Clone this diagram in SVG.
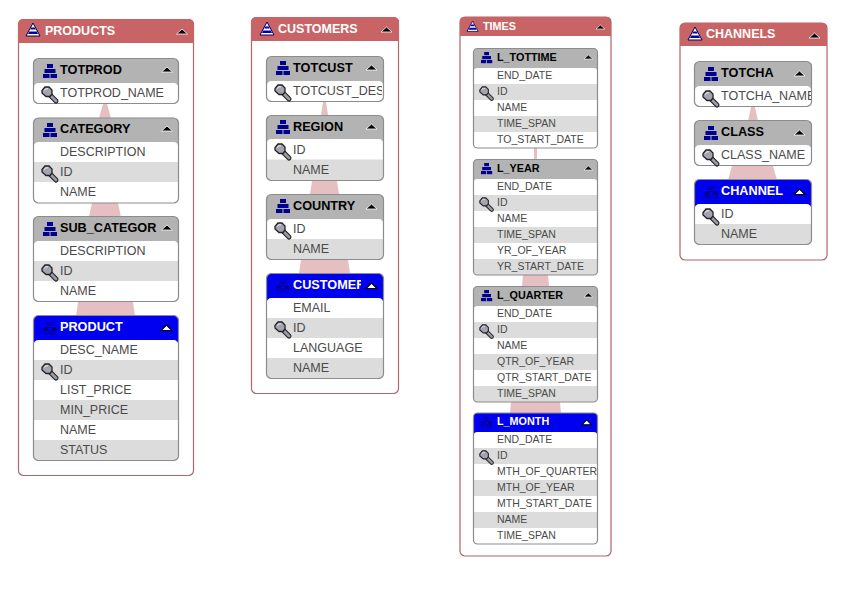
<svg xmlns="http://www.w3.org/2000/svg" xmlns:xlink="http://www.w3.org/1999/xlink" width="864" height="592" viewBox="0 0 864 592">
<style>
text{font-family:"Liberation Sans",Arial,sans-serif;fill:#4a4a4a;font-size:12.5px}
.pt{fill:#fff;font-weight:bold;font-size:12.5px}
.nt{fill:#000;font-weight:bold;font-size:12.7px}
.wt{fill:#fff;font-weight:bold;font-size:12.7px}
.s{font-size:10.5px}
.sb{font-size:10.8px}
.panel{fill:#fff;stroke:#b0666a;stroke-width:1.2}
.ph{fill:#c96466}
.ng{fill:#b3b3b3}
.nb{fill:#0000f0}
.bd{fill:#fff}
.alt{fill:#dcdcdc}
.out{fill:none;stroke:#8c8c8c;stroke-width:1.2}
.conn{fill:#e6bfc3}
</style>
<defs>
<g id="pyr"><path d="M7 0L14 13H0Z" fill="#fff" stroke="#000050" stroke-width="1"/><path d="M5.200 4.500H8.800L9.800 6.500H4.200ZM3.200 8.500H10.800L12 11H2Z" fill="#0000b0"/></g>
<g id="hier" fill="#000090"><rect x="4" y="0" width="6" height="4"/><rect x="1.500" y="5" width="11" height="4"/><rect x="0" y="10" width="6.500" height="4"/><rect x="7.500" y="10" width="6.500" height="4"/></g>
<g id="hierb" fill="none" stroke="#00008c" stroke-width="1"><path d="M4.500 1.500H9.500V4H4.500ZM2 6.500H12M1 10H6V13H1ZM8 10H13V13H8Z"/><path d="M0 8H5M9 8H14" stroke="#000"/></g>
<g id="key"><path d="M9 9L15 15" stroke="#222" stroke-width="5" stroke-linecap="round"/><path d="M9 9L15 15" stroke="#9a9aa8" stroke-width="2.800" stroke-linecap="round"/><path d="M1 4.500L4 1H8L11 4V8L9 10.500H5L1 7Z" fill="#a4a4b0" stroke="#222" stroke-width="1.300"/><path d="M3 4.500L5 2.800H7" fill="none" stroke="#eee" stroke-width="1"/></g>
<path id="tri" d="M0 5L5.500 0L11 5Z" fill="#000" stroke="#fff" stroke-width=".8"/>
<path id="triw" d="M0 5.500L5.500 0L11 5.500Z" fill="#fff" stroke="#000" stroke-width="1.200"/>
</defs>

<g id="panels">
<g id="panel-products"><rect class="panel" x="18.500" y="19.500" width="175" height="456" rx="5"/><path class="ph" d="M18 43V24a5 5 0 0 1 5-5H189a5 5 0 0 1 5 5V43Z"/><use href="#pyr" x="26" y="23"/><text class="pt" x="45" y="35">PRODUCTS</text><use href="#tri" x="176.500" y="29"/></g>
<g id="panel-customers"><rect class="panel" x="251.500" y="17.500" width="147" height="376" rx="5"/><path class="ph" d="M251 41V22a5 5 0 0 1 5-5H394a5 5 0 0 1 5 5V41Z"/><use href="#pyr" x="260" y="22"/><text class="pt" x="278" y="33">CUSTOMERS</text><use href="#tri" x="381" y="27"/></g>
<g id="panel-times"><rect class="panel" x="460" y="17" width="151" height="539" rx="5"/><path class="ph" d="M460 36V21a4 4 0 0 1 4-4H607a4 4 0 0 1 4 4V36Z"/><use href="#pyr" transform="translate(467 21) scale(.8)"/><text class="pt sb" x="483" y="30">TIMES</text><use href="#tri" transform="translate(596 25) scale(.8)"/></g>
<g id="panel-channels"><rect class="panel" x="680" y="23" width="147" height="237" rx="5"/><path class="ph" d="M680 46V28a5 5 0 0 1 5-5H822a5 5 0 0 1 5 5V46Z"/><use href="#pyr" x="688" y="27"/><text class="pt" x="706" y="38">CHANNELS</text><use href="#tri" x="809" y="33"/></g>
</g>

<g id="connectors">
<polygon class="conn" points="103,104 107,104 111,118 99,118"/>
<polygon class="conn" points="92,203 118,203 121,217 89,217"/>
<polygon class="conn" points="78,302 133,302 135,316 76,316"/>
<polygon class="conn" points="323,102 326,102 328,115 321,115"/>
<polygon class="conn" points="312,181 337,181 339,194 310,194"/>
<polygon class="conn" points="301,260 348,260 350,273 299,273"/>
<polygon class="conn" points="534,148 537,148 537,159 534,159"/>
<polygon class="conn" points="523,275 548,275 549,286 522,286"/>
<polygon class="conn" points="511,402 560,402 561,413 510,413"/>
<polygon class="conn" points="751,107 755,107 758,121 748,121"/>
<polygon class="conn" points="732,166 773,166 777,180 728,180"/>
</g>

<clipPath id="c1"><rect x="33" y="58" width="145" height="403"/></clipPath>
<clipPath id="c2"><rect x="267" y="56" width="115" height="323"/></clipPath>
<clipPath id="c2h"><rect x="267" y="56" width="94" height="323"/></clipPath>
<clipPath id="c3"><rect x="473" y="48" width="124" height="497"/></clipPath>
<clipPath id="c4"><rect x="695" y="61" width="116" height="184"/></clipPath>

<g id="node-totprod"><rect class="ng" x="33.500" y="58.500" width="145" height="45" rx="5"/><rect class="bd" x="33.500" y="83" width="145" height="20.500" rx="5"/><rect class="out" x="33.500" y="58.500" width="145" height="45" rx="5"/><use href="#hier" x="43" y="64"/><text class="nt" x="60" y="74">TOTPROD</text><use href="#tri" x="161.500" y="67"/><use href="#key" x="41" y="86"/><text x="60" y="97">TOTPROD_NAME</text></g>

<g id="node-category"><rect class="ng" x="33.500" y="118" width="145" height="85" rx="5"/><rect class="bd" x="33.500" y="142" width="145" height="61" rx="5"/><rect class="alt" x="34" y="162" width="144" height="20"/><rect class="out" x="33.500" y="118" width="145" height="85" rx="5"/><use href="#hier" x="43" y="123"/><text class="nt" x="60" y="133">CATEGORY</text><use href="#tri" x="161.500" y="126"/><text x="60" y="156">DESCRIPTION</text><use href="#key" x="41" y="165"/><text x="60" y="176">ID</text><text x="60" y="196">NAME</text></g>

<g id="node-sub-category"><rect class="ng" x="33.500" y="216.500" width="145" height="85" rx="5"/><rect class="bd" x="33.500" y="241" width="145" height="60.500" rx="5"/><rect class="alt" x="34" y="261" width="144" height="20"/><rect class="out" x="33.500" y="216.500" width="145" height="85" rx="5"/><use href="#hier" x="43" y="222"/><text class="nt" x="60" y="232">SUB_CATEGOR</text><use href="#tri" x="161.500" y="225"/><text x="60" y="255">DESCRIPTION</text><use href="#key" x="41" y="264"/><text x="60" y="275">ID</text><text x="60" y="295">NAME</text></g>

<g id="node-product"><rect class="nb" x="33.500" y="315.500" width="145" height="145" rx="5"/><rect class="bd" x="33.500" y="340" width="145" height="120.500" rx="5"/><rect class="alt" x="34" y="360" width="144" height="20"/><rect class="alt" x="34" y="400" width="144" height="20"/><path class="alt" d="M34 440H178V455.500a5 5 0 0 1-5 5H39a5 5 0 0 1-5-5Z"/><rect class="out" x="33.500" y="315.500" width="145" height="145" rx="5"/><use href="#hierb" x="43" y="321"/><text class="wt" x="60" y="331">PRODUCT</text><use href="#triw" x="161" y="325"/><text x="60" y="354">DESC_NAME</text><use href="#key" x="41" y="363"/><text x="60" y="374">ID</text><text x="60" y="394">LIST_PRICE</text><text x="60" y="414">MIN_PRICE</text><text x="60" y="434">NAME</text><text x="60" y="454">STATUS</text></g>

<g id="node-totcust"><rect class="ng" x="266.500" y="56.500" width="117" height="45" rx="5"/><rect class="bd" x="266.500" y="81" width="117" height="20.500" rx="5"/><rect class="out" x="266.500" y="56.500" width="117" height="45" rx="5"/><use href="#hier" x="276" y="61"/><text class="nt" x="293" y="72">TOTCUST</text><use href="#tri" x="366" y="65"/><use href="#key" x="274" y="84"/><text x="293" y="95" clip-path="url(#c2)">TOTCUST_DESC</text></g>

<g id="node-region"><rect class="ng" x="266.500" y="115.500" width="117" height="65" rx="5"/><rect class="bd" x="266.500" y="139" width="117" height="41.500" rx="5"/><path class="alt" d="M267 159.500H383V175.500a5 5 0 0 1-5 5H272a5 5 0 0 1-5-5Z"/><rect class="out" x="266.500" y="115.500" width="117" height="65" rx="5"/><use href="#hier" x="276" y="120"/><text class="nt" x="293" y="131">REGION</text><use href="#tri" x="366" y="124"/><use href="#key" x="274" y="143"/><text x="293" y="154">ID</text><text x="293" y="174">NAME</text></g>

<g id="node-country"><rect class="ng" x="266.500" y="194.500" width="117" height="65" rx="5"/><rect class="bd" x="266.500" y="219" width="117" height="40.500" rx="5"/><path class="alt" d="M267 239H383V254.500a5 5 0 0 1-5 5H272a5 5 0 0 1-5-5Z"/><rect class="out" x="266.500" y="194.500" width="117" height="65" rx="5"/><use href="#hier" x="276" y="199"/><text class="nt" x="293" y="210">COUNTRY</text><use href="#tri" x="366" y="204"/><use href="#key" x="274" y="222"/><text x="293" y="233">ID</text><text x="293" y="253">NAME</text></g>

<g id="node-customer"><rect class="nb" x="266.500" y="273.500" width="117" height="105" rx="5"/><rect class="bd" x="266.500" y="298" width="117" height="80.500" rx="5"/><rect class="alt" x="267" y="318" width="116" height="20"/><path class="alt" d="M267 358H383V373.500a5 5 0 0 1-5 5H272a5 5 0 0 1-5-5Z"/><rect class="out" x="266.500" y="273.500" width="117" height="105" rx="5"/><use href="#hierb" x="276" y="279"/><text class="wt" x="293" y="289" clip-path="url(#c2h)">CUSTOMER</text><use href="#triw" x="366" y="283"/><text x="293" y="312">EMAIL</text><use href="#key" x="274" y="321"/><text x="293" y="332">ID</text><text x="293" y="352">LANGUAGE</text><text x="293" y="372">NAME</text></g>

<g id="node-l-tottime"><rect class="ng" x="473.500" y="48.500" width="124" height="99.500" rx="4"/><rect class="bd" x="473.500" y="68" width="124" height="80" rx="4"/><rect class="alt" x="474" y="84" width="123" height="16"/><rect class="alt" x="474" y="116" width="123" height="16"/><rect class="out" x="473.500" y="48.500" width="124" height="99.500" rx="4"/><use href="#hier" transform="translate(481 52) scale(.8)"/><text class="nt sb" x="497" y="61">L_TOTTIME</text><use href="#tri" transform="translate(584 55) scale(.8)"/><text class="s" x="497" y="79">END_DATE</text><use href="#key" transform="translate(479 86) scale(.85)"/><text class="s" x="497" y="95">ID</text><text class="s" x="497" y="111">NAME</text><text class="s" x="497" y="127">TIME_SPAN</text><text class="s" x="497" y="143">TO_START_DATE</text></g>

<g id="node-l-year"><rect class="ng" x="473.500" y="159.500" width="124" height="115.500" rx="4"/><rect class="bd" x="473.500" y="179" width="124" height="96" rx="4"/><rect class="alt" x="474" y="195" width="123" height="16"/><rect class="alt" x="474" y="227" width="123" height="16"/><path class="alt" d="M474 259H597V271a4 4 0 0 1-4 4H478a4 4 0 0 1-4-4Z"/><rect class="out" x="473.500" y="159.500" width="124" height="115.500" rx="4"/><use href="#hier" transform="translate(481 163) scale(.8)"/><text class="nt sb" x="497" y="172">L_YEAR</text><use href="#tri" transform="translate(584 166) scale(.8)"/><text class="s" x="497" y="190">END_DATE</text><use href="#key" transform="translate(479 197) scale(.85)"/><text class="s" x="497" y="206">ID</text><text class="s" x="497" y="222">NAME</text><text class="s" x="497" y="238">TIME_SPAN</text><text class="s" x="497" y="254">YR_OF_YEAR</text><text class="s" x="497" y="270">YR_START_DATE</text></g>

<g id="node-l-quarter"><rect class="ng" x="473.500" y="286.500" width="124" height="115.500" rx="4"/><rect class="bd" x="473.500" y="306" width="124" height="96" rx="4"/><rect class="alt" x="474" y="322" width="123" height="16"/><rect class="alt" x="474" y="354" width="123" height="16"/><path class="alt" d="M474 386H597V398a4 4 0 0 1-4 4H478a4 4 0 0 1-4-4Z"/><rect class="out" x="473.500" y="286.500" width="124" height="115.500" rx="4"/><use href="#hier" transform="translate(481 290) scale(.8)"/><text class="nt sb" x="497" y="299">L_QUARTER</text><use href="#tri" transform="translate(584 293) scale(.8)"/><text class="s" x="497" y="317">END_DATE</text><use href="#key" transform="translate(479 324) scale(.85)"/><text class="s" x="497" y="333">ID</text><text class="s" x="497" y="349">NAME</text><text class="s" x="497" y="365">QTR_OF_YEAR</text><text class="s" x="497" y="381">QTR_START_DATE</text><text class="s" x="497" y="397">TIME_SPAN</text></g>

<g id="node-l-month"><rect class="nb" x="473.500" y="413" width="124" height="131" rx="4"/><rect class="bd" x="473.500" y="432" width="124" height="112" rx="4"/><rect class="alt" x="474" y="448" width="123" height="16"/><rect class="alt" x="474" y="480" width="123" height="16"/><rect class="alt" x="474" y="512" width="123" height="16"/><rect class="out" x="473.500" y="413" width="124" height="131" rx="4"/><use href="#hierb" transform="translate(481 416) scale(.8)"/><text class="wt sb" x="497" y="425">L_MONTH</text><use href="#triw" transform="translate(582 420) scale(.85)"/><text class="s" x="497" y="443">END_DATE</text><use href="#key" transform="translate(479 450) scale(.85)"/><text class="s" x="497" y="459">ID</text><text class="s" x="497" y="475" clip-path="url(#c3)">MTH_OF_QUARTER</text><text class="s" x="497" y="491">MTH_OF_YEAR</text><text class="s" x="497" y="507">MTH_START_DATE</text><text class="s" x="497" y="523">NAME</text><text class="s" x="497" y="539">TIME_SPAN</text></g>

<g id="node-totcha"><rect class="ng" x="694.500" y="61.500" width="117" height="45" rx="5"/><rect class="bd" x="694.500" y="86" width="117" height="20.500" rx="5"/><rect class="out" x="694.500" y="61.500" width="117" height="45" rx="5"/><use href="#hier" x="704" y="67"/><text class="nt" x="721" y="77">TOTCHA</text><use href="#tri" x="794" y="71"/><use href="#key" x="702" y="90"/><text x="721" y="100" clip-path="url(#c4)">TOTCHA_NAME</text></g>

<g id="node-class"><rect class="ng" x="694.500" y="120.500" width="117" height="45" rx="5"/><rect class="bd" x="694.500" y="145" width="117" height="20.500" rx="5"/><rect class="out" x="694.500" y="120.500" width="117" height="45" rx="5"/><use href="#hier" x="704" y="126"/><text class="nt" x="721" y="136">CLASS</text><use href="#tri" x="794" y="130"/><use href="#key" x="702" y="149"/><text x="721" y="159">CLASS_NAME</text></g>

<g id="node-channel"><rect class="nb" x="694.500" y="179.500" width="117" height="65" rx="5"/><rect class="bd" x="694.500" y="204" width="117" height="40.500" rx="5"/><path class="alt" d="M695 224H811V239.500a5 5 0 0 1-5 5H700a5 5 0 0 1-5-5Z"/><rect class="out" x="694.500" y="179.500" width="117" height="65" rx="5"/><use href="#hierb" x="704" y="185"/><text class="wt" x="721" y="195">CHANNEL</text><use href="#triw" x="794" y="189"/><use href="#key" x="702" y="208"/><text x="721" y="218">ID</text><text x="721" y="238">NAME</text></g>
</svg>
